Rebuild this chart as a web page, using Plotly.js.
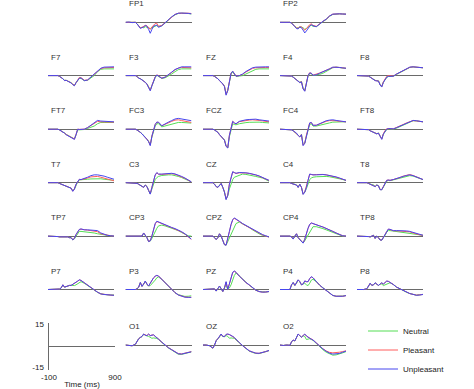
<!DOCTYPE html>
<html>
<head>
<meta charset="utf-8">
<script src="https://cdn.plot.ly/plotly-3.0.1.min.js"></script>
<style>html,body{margin:0;padding:0;background:#fff;}#chart{width:474px;height:389px;}</style>
</head>
<body>
<div id="chart"></div>
<script>
// time points (ms)
const time = [-100,-50,0,50,75,100,125,150,175,200,225,250,275,300,325,350,375,400,450,500,550,600,650,700,750,800,850,900];
const conditionNames = ['Neutral','Pleasant','Unpleasant'];
const electrodes = ['FP1','FP2','F7','F3','FZ','F4','F8','FT7','FC3','FCZ','FC4','FT8','T7','C3','CZ','C4','T8','TP7','CP3','CPZ','CP4','TP8','P7','P3','PZ','P4','P8','O1','OZ','O2'];
const yTickVals = [-13, 14];
const yTickText = ['-15', '15'];
const xTickVals = [-100, 900];
const xTickText = ['-100', '900'];

// amplitudes (µV): Neutral / Pleasant / Unpleasant
const FP1_neu = [0,0.1,-0.1,0,-1,-2.3,-3.5,-3.2,-3.5,-2.8,-3,-3.5,-4,-3.5,-2.5,-2,-2,-2.8,-2.2,-0.5,1.5,3.3,4.8,5.6,5.8,5.8,5.6,5.3];
const FP1_ple = [0,0.1,-0.1,0,-1,-2.3,-3.5,-3.2,-2.8,-2,-2.2,-3.5,-4.5,-3,-1.5,-0.8,-0.6,-2.5,-2,-0.3,1.8,3.5,5,5.8,5.9,5.9,5.8,5.6];
const FP1_unp = [0,0.2,-0.2,0,-1,-2.5,-3.9,-3.4,-3,-2,-2.5,-4.5,-7,-4.5,-2.5,-2,-1.8,-3.2,-2.2,-0.3,1.8,3.5,5,5.8,5.9,5.9,5.7,5.4];
const FP2_neu = [0,0,0.1,0,-0.5,-1.8,-2.6,-3.5,-3.6,-3,-3,-3.5,-4.5,-4,-3,-2.3,-2,-2.5,-2.8,-1,0.4,1.8,3.8,5,5.4,5.4,5.3,5.2];
const FP2_ple = [0,0,0.1,0,-0.5,-1.8,-2.6,-3.6,-3.8,-2.8,-3,-4,-5,-4,-2.5,-1.5,-1,-2,-2.6,-0.8,0.6,2,4,5.2,5.5,5.4,5.3,5.2];
const FP2_unp = [0,0,0.1,0,-0.5,-2,-2.8,-4,-4.2,-3,-3.5,-5,-6.8,-5.5,-3.5,-2.5,-1.5,-2.2,-2.8,-0.8,0.6,2,4,5.2,5.5,5.4,5.3,5.2];
const F7_neu = [0,0,0,0,-0.5,-1,-2,-3,-3,-3.5,-3.9,-4.5,-5.5,-6.2,-4.6,-3.3,-1.8,-1.8,-3.2,-3,-1.5,0,2.5,4,4.3,4.3,4.3,4.3];
const F7_ple = [0,0,0,0,-0.5,-1,-2,-3.1,-3,-3.5,-4,-4.6,-5.6,-6.3,-4.5,-3,-1.2,-1.3,-3,-2.8,-1,1,3,4.5,5,5.2,5.2,5.2];
const F7_unp = [0,0,0,0,-0.5,-1,-2,-3.2,-3,-3.6,-4,-4.7,-5.8,-6.5,-4.5,-3.2,-1.6,-1.5,-3.2,-2.8,-1,1,3.2,4.7,5.4,5.6,5.6,5.6];
const F3_neu = [0,0,0,0,-0.5,-1.6,-2,-2.5,-3.4,-4.2,-5.3,-7.2,-9.2,-6.5,-3.6,-1.2,0.2,-0.5,-1.8,-1.4,-0.3,1,2.5,3.8,4.3,4.3,4.3,4.3];
const F3_ple = [0,0,0,0,-0.5,-1.7,-2,-2.6,-3.5,-4.3,-5.4,-7.3,-9.4,-6.3,-3.3,-0.8,0.5,-0.3,-1.6,-1,0.3,2,3.7,4.8,5.2,5.2,5,5];
const F3_unp = [0,0,0,0,-0.5,-1.7,-2,-2.6,-3.5,-4.3,-5.5,-7.5,-9.7,-6.5,-3.5,-1,0.4,-0.4,-1.7,-1,0.4,2.2,3.9,5,5.6,5.6,5.6,5.6];
const FZ_neu = [0,0,0,0,-0.5,-1,-2,-3.1,-3.9,-5.2,-6.7,-11.8,-9.5,-3.5,1,2.4,0.6,-0.5,-0.3,0,1,2,3.2,4,4.3,4.3,4.3,4.3];
const FZ_ple = [0,0,0,0,-0.5,-1,-2,-3.2,-4,-5.3,-6.8,-12,-9.3,-3,1.6,2.8,0.9,-0.3,0,0.8,2.3,3.6,4.6,5,5.2,5.2,5.2,5.2];
const FZ_unp = [0,0,0,0,-0.5,-1,-2,-3.2,-4,-5.4,-7,-12.5,-9.5,-3.2,1.5,2.8,0.8,-0.4,0,1,2.6,3.9,5,5.4,5.6,5.6,5.6,5.6];
const F4_neu = [0,0,0,0,-0.3,-1,-1.9,-2.9,-3.9,-4.3,-3.8,-8,-9.6,-4.2,-0.3,1.3,1.2,0,0.2,0.8,1.5,2.5,3.7,5,5.4,5.1,4.8,4.6];
const F4_ple = [0,0,0,0,-0.3,-1,-2,-3,-4,-4.4,-3.9,-8.3,-9.8,-3.8,0.2,1.8,1.5,0.3,0.8,1.6,2.5,3.3,4.3,5.2,5.4,5.2,4.9,4.7];
const F4_unp = [0,0,0,0,-0.3,-1,-2,-3,-4,-4.5,-4,-8.5,-10,-4,0,1.7,1.5,0.2,0.5,1.5,2.3,3.2,4.3,5.4,5.5,5.2,4.9,4.7];
const F8_neu = [0,0,0,0,-0.3,-1,-1.8,-2.4,-3,-3.2,-3.3,-5.6,-6.8,-4.2,-2.5,-1.2,-0.6,-0.5,-0.5,0.8,2,3,4.2,5.2,5.5,5.4,5.2,5];
const F8_ple = [0,0,0,0,-0.3,-1,-1.8,-2.5,-3.1,-3.3,-3.4,-5.8,-7,-4,-2,-0.5,0,-0.2,-0.3,1,2.2,3.2,4.3,5.3,5.6,5.4,5.2,5];
const F8_unp = [0,0,0,0,-0.3,-1,-1.8,-2.5,-3.2,-3.4,-3.5,-6,-7.3,-4.3,-2.5,-1,-0.5,-0.4,-0.4,1,2.2,3.2,4.3,5.4,5.6,5.4,5.2,5];
const FT7_neu = [0,0,0,0,-0.5,-1,-1.8,-2.4,-3.3,-3.8,-4.3,-5.2,-5.8,-6.2,-3.6,-0.4,-0.4,-0.3,-0.2,0.5,1.2,2,3.5,4.3,4.3,4.3,4.3,4.3];
const FT7_ple = [0,0,0,0,-0.5,-1,-1.8,-2.5,-3.4,-3.9,-4.4,-5.3,-5.8,-6.3,-3.3,0,-0.1,-0.2,0,1,2.3,3.8,5,4.7,4.6,4.5,4.5,4.5];
const FT7_unp = [0,0,0,0,-0.5,-1,-1.8,-2.5,-3.5,-4,-4.5,-5.5,-6,-6.5,-3.5,0,-0.2,-0.2,0,1,2.5,4.3,5.6,5.2,5,4.7,4.7,4.7];
const FC3_neu = [0,0,0,0,-0.5,-1,-2,-2.9,-3.9,-4.9,-6.3,-7.8,-10,-5,-1,2,3.5,3.5,1.5,2,2.5,3.2,3.8,4.3,4.3,4.2,4,3.9];
const FC3_ple = [0,0,0,0,-0.5,-1,-2,-3,-4,-5,-6.4,-7.8,-10.2,-4.3,0.2,3,4.5,4.3,2.2,3.3,4.2,5,5.8,6,5.5,5,4.6,4.3];
const FC3_unp = [0,0,0,0,-0.5,-1,-2,-3,-4,-5,-6.5,-8,-10.5,-4.5,0,3,4.5,4.5,2.2,3.5,4.5,5.5,6.5,6.9,6.5,6,5.6,5.4];
const FCZ_neu = [0,0,0,0,-0.5,-1,-2,-3.4,-4.4,-5.4,-6.8,-10.6,-12,-4.8,0.5,3.5,3,2.8,3.5,4,4.2,4.4,4.5,4.6,4.5,4.3,4.1,4];
const FCZ_ple = [0,0,0,0,-0.5,-1,-2,-3.5,-4.5,-5.5,-7,-10.8,-11.8,-3.8,1.6,5,4,3.4,4.8,5.3,5.6,5.8,6,6,5.6,5.3,5,4.7];
const FCZ_unp = [0,0,0,0,-0.5,-1,-2,-3.5,-4.5,-5.5,-7,-11,-12,-4,1.5,5,4,3.5,5,5.6,6,6.2,6.5,6.4,6,5.8,5.5,5.2];
const FC4_neu = [0,0,0,0,-0.4,-1,-1.8,-2.4,-3.8,-4.8,-3.3,-10,-9,-4.5,0,3,3.5,2,2,2.6,3,3.5,4,4.5,4.7,4.7,4.7,4.7];
const FC4_ple = [0,0,0,0,-0.4,-1,-1.8,-2.5,-3.9,-4.9,-3.4,-10.2,-8.8,-3.8,1.2,4,4.2,2.5,2.5,3.4,4.3,5,5.5,5.6,5.4,5,4.8,4.7];
const FC4_unp = [0,0,0,0,-0.4,-1,-1.8,-2.5,-4,-5,-3.5,-10.5,-9,-4,1,4,4.3,2.5,2.5,3.5,4.5,5.4,5.8,6,5.6,5.2,5,4.7];
const FT8_neu = [0,0,0,0,-0.3,-1,-1.5,-2,-2.9,-2.9,-2.4,-4.8,-6.2,-3.2,-1.2,-0.2,0.2,0.2,0,0.7,1.7,2.7,3.8,4.8,5.4,5.3,5,4.7];
const FT8_ple = [0,0,0,0,-0.3,-1,-1.5,-2,-2.9,-2.9,-2.5,-4.9,-6.3,-2.9,-0.8,0.2,0.5,0.4,0.2,1,2,3,4,5,5.5,5.3,5,4.7];
const FT8_unp = [0,0,0,0,-0.3,-1,-1.5,-2,-3,-3,-2.5,-5,-6.5,-3,-1,0,0.4,0.4,0.2,1,2,3,4,5,5.6,5.4,5,4.7];
const T7_neu = [0,0,0,0,-0.5,-1,-1.5,-2,-2.4,-2.9,-3.1,-3.4,-5.3,-4.2,-1.5,0.5,1.8,1.8,2,2.2,2.4,2.5,2.6,2.5,2.2,2,1.7,1.5];
const T7_ple = [0,0,0,0,-0.5,-1,-1.5,-2,-2.5,-3,-3.2,-3.5,-5.4,-3.9,-1,1,2.1,1.9,2.3,3,3.7,4,4,3.5,3,2.3,1.7,1.2];
const T7_unp = [0,0,0,0,-0.5,-1,-1.5,-2,-2.5,-3,-3.2,-3.5,-5.5,-4,-1,1,2.2,2,2.5,3.5,4.5,5,5,4.7,4.2,3.5,2.8,2.2];
const C3_neu = [0,0,0,0,-0.4,-1,-1.5,-2,-2.9,-1.5,-2.4,-4.8,-7.2,-4,-1,2,3.3,4,4.6,5,5,5,4.6,4,3.3,2.5,1.5,0.5];
const C3_ple = [0,0,0,0,-0.4,-1,-1.5,-2,-3,-1.5,-2.5,-4.9,-7.1,-2.9,1.5,4.8,6.3,5.4,5.3,5.6,5.8,5.8,5.4,4.7,3.8,2.8,1.6,0.4];
const C3_unp = [0,0,0,0,-0.4,-1,-1.5,-2,-3,-1.5,-2.5,-5,-7.3,-3,1.5,5,6.5,5.5,5.5,5.8,6,6,5.6,5,4,3,1.8,0.5];
const CZ_neu = [0,0,0,0,-1,-2.4,-2.9,-1.4,-0.5,-2.9,-5.8,-10.5,-8.5,-4,-1,2,3.5,4,5,5.5,5.3,5,4.5,4,3.5,3,2,1];
const CZ_ple = [0,0,0,0,-1,-2.5,-3,-1.5,-0.5,-3,-5.9,-10.5,-7.8,-0.8,3.6,6.9,6.4,5.9,6.3,6.4,6.2,5.9,5.5,4.9,4.2,3.4,2.4,1.4];
const CZ_unp = [0,0,0,0,-1,-2.5,-3,-1.5,-0.5,-3,-6,-10.8,-8,-1,3.5,7,6.5,6,6.5,6.5,6.3,6,5.6,5,4.3,3.5,2.5,1.5];
const C4_neu = [0,0,0,0,-0.5,-1,-1,-1.4,-2.9,-1,-2.9,-7.2,-6.2,-3.8,-1,2,3,3.5,3.8,4,4,4,3.8,3.5,3,2.5,2,1.5];
const C4_ple = [0,0,0,0,-0.5,-1,-1,-1.5,-3,-1,-2.9,-7.3,-5.8,-2.8,1.6,5.4,5.2,5,5.2,5.4,5.3,5,4.6,4.1,3.5,2.9,2.1,1.5];
const C4_unp = [0,0,0,0,-0.5,-1,-1,-1.5,-3,-1,-3,-7.5,-6,-3,1.5,5.5,5.3,5,5,5.2,5.2,5,4.7,4.3,3.7,3,2.2,1.5];
const T8_neu = [0,0,0,0,-0.5,-1,-1.2,-1.4,-2.4,-1.4,-1.9,-4.3,-4.5,-2.8,-1,1,1.4,1.3,1.8,2.3,3,3.6,4.2,4.5,4.2,3.3,2.6,2];
const T8_ple = [0,0,0,0,-0.5,-1,-1.2,-1.5,-2.4,-1.5,-2,-4.4,-4.4,-2.4,-0.4,1.5,1.7,1.5,2,2.5,3.3,4.2,4.8,5.2,4.6,3.6,2.7,2];
const T8_unp = [0,0,0,0,-0.5,-1,-1.2,-1.5,-2.5,-1.5,-2,-4.5,-4.5,-2.5,-0.5,1.5,1.7,1.5,2,2.5,3.2,4,4.6,5,4.5,3.5,2.7,2];
const TP7_neu = [0,0,0,-0.3,-0.5,-0.5,-0.5,-0.7,-0.5,-0.5,-1,-1,-2.3,-1.8,0,2,3,3,2.8,2.5,2.2,2,1.5,1,0.7,0.5,0.2,0];
const TP7_ple = [0,0,0,-0.3,-0.5,-0.5,-0.5,-0.7,-0.5,-0.5,-1,-1,-2.3,-1.4,1,3,4.2,4.4,3.9,3.8,3.5,3,2.8,1.5,1,0.5,0.2,0];
const TP7_unp = [0,0,0,-0.3,-0.5,-0.5,-0.5,-0.7,-0.5,-0.5,-1,-1,-2.4,-1.5,1,3,4.3,4.6,4,4,3.8,3.5,3.5,2,1.2,0.5,0.2,0];
const CP3_neu = [0,0,0,0,-0.2,-0.4,-0.2,0,1.9,0.5,-1,-3.4,-3.2,-1.5,1,3.5,5,6.5,7,6.5,5.8,5,4.2,3.5,2.3,1,0.2,0];
const CP3_ple = [0,0,0,0,-0.2,-0.4,-0.2,0,2,0.5,-1,-3.4,-2.9,0.2,4.5,7.8,9.3,8.8,7.8,6.8,6.2,5.4,4.6,3.8,2.6,1.3,-0.3,-2.2];
const CP3_unp = [0,0,0,0,-0.2,-0.4,-0.2,0,2,0.5,-1,-3.5,-3,0,4.5,8,9.5,9,8,7,6.3,5.5,4.8,4,2.8,1.5,0,-2];
const CPZ_neu = [0,0,0,0,-1,-2.1,-1,1.4,0,-3,-5.4,-5.8,-3.5,-1,1.5,3,6,8,9,8,6.8,5.5,4,2.5,1.5,0.5,0,-0.5];
const CPZ_ple = [0,0,0,0,-1,-2.2,-1,1.5,0,-3,-5.4,-5.7,-2,2.8,7.3,10.3,11.4,10.8,9.3,7.8,6.6,5.4,4,2.8,1.8,0.8,0,-0.6];
const CPZ_unp = [0,0,0,0,-1,-2.2,-1,1.5,0,-3,-5.5,-5.8,-2,3,7.5,10.5,11.6,11,9.5,8,6.8,5.5,4.2,3,2,1,0.2,-0.5];
const CP4_neu = [0,0,0,0,-0.5,-1.8,0,1.4,-1,-2,-3,-4.4,-3,-1,1,3,5,6,6,5.5,4.8,4,3.2,2.5,1.5,0.5,0,0];
const CP4_ple = [0,0,0,0,-0.5,-1.8,0,1.5,-1,-2,-3,-4.4,-2,2,5,7.4,8.3,8,7,6.5,5.8,5,4,3,2,1,0.2,0];
const CP4_unp = [0,0,0,0,-0.5,-1.9,0,1.5,-1,-2,-3,-4.5,-2,2,5,7.5,8.4,8,7,6.5,5.8,5,4,3,2,1,0.2,0];
const TP8_neu = [0,0,0,0,-0.3,-0.5,0,0.5,-1.4,0,-1,-2.4,-2.6,-1.3,0.5,2.5,3.5,3.5,3.2,3,2.7,2.5,2,1.5,1.2,1,0.7,0.5];
const TP8_ple = [0,0,0,0,-0.3,-0.5,0,0.5,-1.5,0,-1,-2.5,-2.5,-1,1,3,4.4,4.2,3.4,3.4,3.3,3.2,3,2.7,2,1.3,0.8,0.5];
const TP8_unp = [0,0,0,0,-0.3,-0.5,0,0.5,-1.5,0,-1,-2.5,-2.6,-1,1,3,4.5,4.3,3.5,3.5,3.5,3.5,3.3,3,2.3,1.5,1,0.5];
const P7_neu = [0,0,0,0,0.3,1,2.9,1.5,2,2.5,2.6,2.7,2.7,2.5,3,3.5,4.5,5,4,2.5,1,-0.3,-1.8,-2.8,-3.2,-3.4,-3.5,-3.5];
const P7_ple = [0,0,0,0,0.3,1,3,1.5,2,2.6,2.6,2.6,3.1,3.9,4.6,5.3,6.1,5.8,4.3,2.6,1.1,-0.2,-1.7,-2.8,-3.2,-3.4,-3.6,-3.7];
const P7_unp = [0,0,0,0,0.3,1,3,1.5,2,2.6,2.6,2.6,3.2,4,4.7,5.4,6.2,5.8,4.3,2.6,1.1,-0.2,-1.7,-2.8,-3.2,-3.4,-3.6,-3.7];
const P3_neu = [0,0,0,0,0.5,1.5,4.4,2,3.4,5.3,3.4,2.2,2.5,3.5,4.5,6,7.5,8,6.5,4.3,2,0,-2,-3.3,-4,-4.4,-4.3,-4];
const P3_ple = [0,0,0,0,0.5,1.5,4.4,2,3.5,5.3,3.5,2.2,4,5.9,7.4,8.4,9,8.6,6.5,4.3,2.2,0,-2,-3.5,-4.3,-4.8,-5,-5];
const P3_unp = [0,0,0,0,0.5,1.5,4.5,2,3.5,5.4,3.5,2.2,4,6,7.5,8.5,9,8.6,6.5,4.3,2.2,0,-2,-3.5,-4.3,-4.9,-5,-5];
const PZ_neu = [0,0,0,0.4,0.4,-1,0.5,2.1,0.5,-1.3,1,3,0,1,3,6,9,10.5,8.5,6.3,4.3,2.8,1.2,-0.5,-1.3,-1.6,-1.6,-1.3];
const PZ_ple = [0,0,0,0.4,0.4,-1,0.5,2.2,0.5,-1.3,1,4.8,0,3.5,7.5,10.8,11.6,11,8.6,6.4,4.4,2.9,1.2,-0.5,-1.3,-1.7,-1.6,-1.3];
const PZ_unp = [0,0,0,0.4,0.4,-1,0.5,2.2,0.5,-1.3,1,5,0,4,8,11,11.8,11,8.6,6.5,4.5,3,1.3,-0.4,-1.3,-1.7,-1.6,-1.3];
const P4_neu = [0,0,0,0,3,4.4,2.6,3.9,6,5,3,3.4,4,3,2.5,4,6,6.5,5,2.8,1,-0.5,-2.5,-3.8,-4.3,-4.4,-4.2,-3.8];
const P4_ple = [0,0,0,0,3,4.4,2.6,4,6.1,5,3,3.5,5.4,5,5,6.9,8,7.5,5,2.8,1,-0.5,-2.5,-3.8,-4.3,-4.5,-4.3,-3.9];
const P4_unp = [0,0,0,0,3,4.5,2.6,4,6.2,5,3,3.5,5.5,5,5,7,8.2,7.5,5,2.8,1,-0.5,-2.5,-3.8,-4.3,-4.5,-4.3,-3.9];
const P8_neu = [0,0,0,0.5,2.5,3.9,2.6,3,4.2,3.5,2.6,3.4,3.5,2.5,3,3.3,4,4.3,3.2,1.5,0.5,-0.8,-1.8,-2.6,-3.1,-3.6,-3.4,-3.1];
const P8_ple = [0,0,0,0.5,2.5,4,2.6,3,4.2,3.5,2.6,3.5,4.2,3.5,4.4,5.3,5.2,4.7,3.2,1.5,0.5,-0.8,-1.8,-2.6,-3.1,-3.6,-3.4,-3.1];
const P8_unp = [0,0,0,0.5,2.5,4,2.6,3,4.3,3.5,2.6,3.5,4.3,3.5,4.5,5.4,5.2,4.7,3.2,1.5,0.5,-0.8,-1.8,-2.6,-3.1,-3.7,-3.5,-3.2];
const O1_neu = [0,-0.3,-0.5,0.5,2.5,4,4.8,5.4,6.9,6.1,5.8,5.5,4.8,4.3,4.5,4.3,4.2,3.5,1.6,-0.3,-1.9,-3.2,-4.6,-5.9,-6,-5.5,-5,-4.4];
const O1_ple = [0,-0.3,-0.5,0.5,2.5,4,4.8,5.5,6.9,6.2,6,6.9,6,6.4,6.4,5.5,4.8,3.8,1.8,-0.1,-1.7,-3,-4.3,-5.5,-5.7,-5.3,-4.8,-4.2];
const O1_unp = [0,-0.3,-0.5,0.5,2.5,4,4.8,5.5,7,6.2,6,7,6,6.5,6.5,5.5,4.8,3.8,1.8,-0.1,-1.7,-3,-4.3,-5.6,-5.8,-5.4,-4.9,-4.3];
const OZ_neu = [0,0,-0.5,-2,0,2.7,4,5.1,6.9,5.4,5.3,6,5.5,4.3,4.5,4.6,4.3,3.2,1.3,-0.6,-2.5,-3.9,-4.7,-5.4,-5.5,-5,-4.3,-3.6];
const OZ_ple = [0,0,-0.5,-2,0,2.8,4,5.2,6.9,5.5,5.4,6.7,6.9,6.6,6.2,5.4,4.7,3.5,1.5,-0.4,-2.3,-3.7,-4.5,-5.2,-5.3,-4.9,-4.2,-3.5];
const OZ_unp = [0,0,-0.5,-2,0,2.8,4,5.2,7,5.5,5.4,6.8,7,6.7,6.3,5.5,4.8,3.5,1.5,-0.4,-2.3,-3.7,-4.5,-5.2,-5.3,-4.9,-4.2,-3.5];
const O2_neu = [0,-0.3,0,-0.2,2,3.1,2.6,4.4,6.9,5.9,5,5.8,5.5,3.5,4,4,3.5,3,1,-1.2,-3,-4.6,-5.8,-6.5,-6.3,-5.8,-5,-4.2];
const O2_ple = [0,-0.3,0,-0.2,2,3.2,2.6,4.5,6.9,6,5,6,6.9,5.7,5.2,4.3,3.7,3.2,1.3,-0.8,-2.4,-3.8,-4.7,-5,-4.9,-4.6,-4.2,-3.7];
const O2_unp = [0,-0.3,0,-0.2,2,3.2,2.6,4.5,7,6,5,6,7,5.8,5.3,4.3,3.7,3.2,1.3,-0.8,-2.5,-4,-5.2,-5.8,-5.6,-5.4,-4.6,-3.9];

const waves = {
  FP1:[FP1_neu,FP1_ple,FP1_unp], FP2:[FP2_neu,FP2_ple,FP2_unp],
  F7:[F7_neu,F7_ple,F7_unp], F3:[F3_neu,F3_ple,F3_unp], FZ:[FZ_neu,FZ_ple,FZ_unp], F4:[F4_neu,F4_ple,F4_unp], F8:[F8_neu,F8_ple,F8_unp],
  FT7:[FT7_neu,FT7_ple,FT7_unp], FC3:[FC3_neu,FC3_ple,FC3_unp], FCZ:[FCZ_neu,FCZ_ple,FCZ_unp], FC4:[FC4_neu,FC4_ple,FC4_unp], FT8:[FT8_neu,FT8_ple,FT8_unp],
  T7:[T7_neu,T7_ple,T7_unp], C3:[C3_neu,C3_ple,C3_unp], CZ:[CZ_neu,CZ_ple,CZ_unp], C4:[C4_neu,C4_ple,C4_unp], T8:[T8_neu,T8_ple,T8_unp],
  TP7:[TP7_neu,TP7_ple,TP7_unp], CP3:[CP3_neu,CP3_ple,CP3_unp], CPZ:[CPZ_neu,CPZ_ple,CPZ_unp], CP4:[CP4_neu,CP4_ple,CP4_unp], TP8:[TP8_neu,TP8_ple,TP8_unp],
  P7:[P7_neu,P7_ple,P7_unp], P3:[P3_neu,P3_ple,P3_unp], PZ:[PZ_neu,PZ_ple,PZ_unp], P4:[P4_neu,P4_ple,P4_unp], P8:[P8_neu,P8_ple,P8_unp],
  O1:[O1_neu,O1_ple,O1_unp], OZ:[OZ_neu,OZ_ple,OZ_unp], O2:[O2_neu,O2_ple,O2_unp]
};

// ---- layout (positions / styles) ----
const W = 474, H = 389;
const gridPos = {
  FP1:[0,1], FP2:[0,3],
  F7:[1,0], F3:[1,1], FZ:[1,2], F4:[1,3], F8:[1,4],
  FT7:[2,0], FC3:[2,1], FCZ:[2,2], FC4:[2,3], FT8:[2,4],
  T7:[3,0], C3:[3,1], CZ:[3,2], C4:[3,3], T8:[3,4],
  TP7:[4,0], CP3:[4,1], CPZ:[4,2], CP4:[4,3], TP8:[4,4],
  P7:[5,0], P3:[5,1], PZ:[5,2], P4:[5,3], P8:[5,4],
  O1:[6,1], OZ:[6,2], O2:[6,3]
};
const colLeft = [48, 125.5, 203, 280, 357];
const rowBase = [22.3, 75.6, 129.2, 182.7, 236.1, 289.5, 345];
const PW = 66, HALF = 23.5, K = HALF / 15;
const colors = ['#55dd55', '#ff5c5c', '#4646ee'];
const FONT = 'Liberation Sans, Arial, sans-serif';

function panelAxes(left, base) {
  const top = Math.max(0, base - HALF), bot = Math.min(H, base + HALF);
  return {
    xd: [left / W, (left + PW) / W],
    yd: [1 - bot / H, 1 - top / H],
    yr: [-(bot - base) / K, (base - top) / K]
  };
}

const traces = [];
const layout = {
  width: W, height: H,
  margin: {l: 0, r: 0, t: 0, b: 0, pad: 0},
  paper_bgcolor: '#fff', plot_bgcolor: 'rgba(0,0,0,0)',
  font: {family: FONT, size: 8, color: '#222'},
  showlegend: true,
  legend: {x: 363 / W, y: 1 - 350 / H, xanchor: 'left', yanchor: 'middle',
           font: {family: FONT, size: 8, color: '#222'}, itemwidth: 30,
           bgcolor: 'rgba(0,0,0,0)', borderwidth: 0, tracegroupgap: 0},
  annotations: []
};

electrodes.forEach((name, i) => {
  const n = i + 1;
  const sx = n === 1 ? '' : String(n);
  const [row, col] = gridPos[name];
  const p = panelAxes(colLeft[col], rowBase[row]);
  waves[name].forEach((vals, c) => {
    traces.push({
      type: 'scatter', mode: 'lines', x: time, y: vals,
      xaxis: 'x' + sx, yaxis: 'y' + sx,
      line: {color: colors[c], width: 1},
      name: conditionNames[c], legendgroup: conditionNames[c],
      showlegend: i === 0, hoverinfo: 'skip'
    });
  });
  layout['xaxis' + sx] = {domain: p.xd, range: [-100, 900], visible: false, fixedrange: true, anchor: 'y' + sx};
  layout['yaxis' + sx] = {domain: p.yd, range: p.yr, anchor: 'x' + sx, showgrid: false, showticklabels: false,
    ticks: '', showline: false, zeroline: true, zerolinecolor: '#6a6a6a', zerolinewidth: 1, fixedrange: true};
  layout.annotations.push({
    xref: 'paper', yref: 'paper', x: (colLeft[col] + 1) / W, y: 1 - (rowBase[row] - 18.5) / H,
    xanchor: 'left', yanchor: 'middle', showarrow: false, text: name,
    font: {family: FONT, size: 8, color: '#333'}
  });
});

// scale panel
const nS = electrodes.length + 1;
const pS = panelAxes(colLeft[0] + 1, 346.5);
layout['xaxis' + nS] = {domain: pS.xd, range: [-100, 900], anchor: 'y' + nS, showgrid: false, zeroline: false,
  showline: false, ticks: '', tickvals: xTickVals, ticktext: xTickText, tickfont: {family: FONT, size: 8, color: '#222'},
  ticklabelstandoff: 1,
  title: {text: 'Time (ms)', font: {family: FONT, size: 8, color: '#222'}, standoff: 2}, fixedrange: true};
layout['yaxis' + nS] = {domain: pS.yd, range: pS.yr, anchor: 'x' + nS, showgrid: false, zeroline: true,
  zerolinecolor: '#6a6a6a', zerolinewidth: 1, showline: true, linecolor: '#6a6a6a', linewidth: 1.5,
  ticks: '', tickvals: yTickVals, ticktext: yTickText, ticklabelstandoff: 2,
  tickfont: {family: FONT, size: 8, color: '#222'}, fixedrange: true};
traces.push({type: 'scatter', mode: 'lines', x: [], y: [], xaxis: 'x' + nS, yaxis: 'y' + nS, showlegend: false, hoverinfo: 'skip'});

Plotly.newPlot('chart', traces, layout, {displayModeBar: false, staticPlot: true});
</script>
</body>
</html>
